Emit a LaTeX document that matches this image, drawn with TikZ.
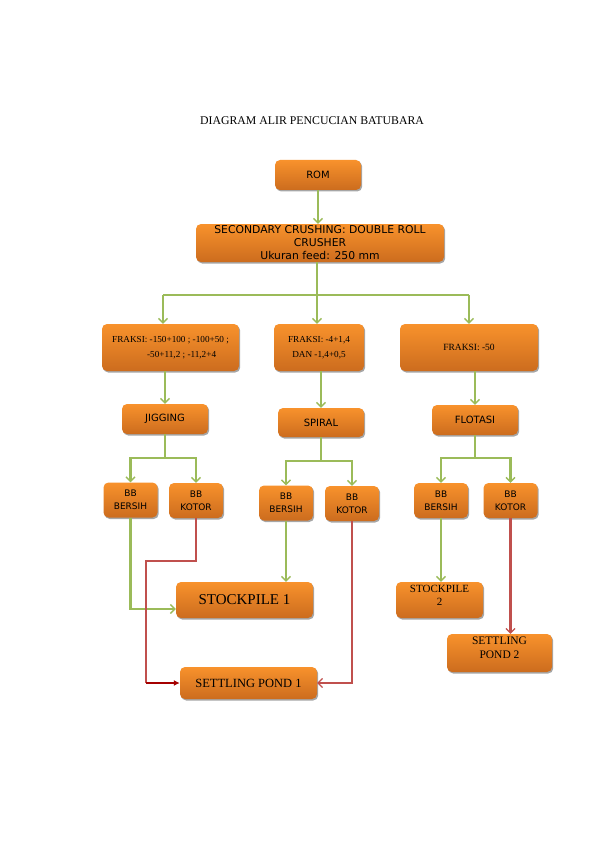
\documentclass[tikz,border=0pt]{standalone}
\usepackage{fontspec}
\setmainfont{Liberation Serif}
\setsansfont{DejaVu Sans}
\usetikzlibrary{arrows.meta,shadows}
\definecolor{orT}{HTML}{F8922C}
\definecolor{orB}{HTML}{CC6C1E}
\definecolor{lgreen}{HTML}{9BBB59}
\definecolor{lred}{HTML}{C0504D}
\definecolor{dred}{HTML}{A50000}
\tikzset{
  box/.style={rectangle, rounded corners=5pt, top color=orT, bottom color=orB, draw=none,
    drop shadow={shadow xshift=1.2pt,shadow yshift=-1.5pt,fill=black,opacity=0.35},
    inner sep=1pt, align=center, text=black},
  sbox/.style={box, font=\sffamily\fontsize{10}{13}\selectfont},
  bbbox/.style={box, font=\sffamily\fontsize{9}{13}\selectfont, minimum width=54pt, minimum height=35pt},
  gline/.style={draw=lgreen, line width=2.5pt},
  garrow/.style={gline, -{Straight Barb[length=4.5pt,width=9pt,line width=1.3pt]}},
  rline/.style={draw=lred, line width=2.2pt},
  rarrow/.style={rline, -{Straight Barb[length=4.5pt,width=9pt,line width=1.2pt]}},
  darrow/.style={draw=dred, line width=2.2pt, -{Latex[length=6pt,width=6pt]}},
}
\begin{document}
\begin{tikzpicture}[x=1pt,y=-1pt]
\fill[white] (0,0) rectangle (595,842);
\useasboundingbox (0,0) rectangle (595,842);

\node[font=\fontsize{11.8}{13}\selectfont] (title) at (312,121) {DIAGRAM ALIR PENCUCIAN BATUBARA};

\node[sbox, minimum width=86pt, minimum height=30pt] (rom) at (318,175) {ROM};
\node[sbox, minimum width=248pt, minimum height=38pt, font=\sffamily\fontsize{10.8}{13}\selectfont] (sec) at (320,243)
  {SECONDARY CRUSHING: DOUBLE ROLL\\CRUSHER\\Ukuran feed: 250 mm};

\node[box, minimum width=137pt, minimum height=47pt, align=left, font=\fontsize{9.2}{15}\selectfont] (f1) at (170.5,347.5)
  {FRAKSI: -150+100 ; -100+50 ;\\\hspace*{35pt}-50+11,2 ; -11,2+4};
\node[box, minimum width=90pt, minimum height=47pt, font=\fontsize{9.2}{15}\selectfont] (f2) at (319,347.5)
  {FRAKSI: -4+1,4\\DAN -1,4+0,5};
\node[box, minimum width=138pt, minimum height=47pt, font=\fontsize{9.5}{15}\selectfont] (f3) at (469,347.5)
  {FRAKSI: -50};

\node[sbox, minimum width=86pt, minimum height=30pt] (jig) at (165,419) {JIGGING};
\node[sbox, minimum width=86pt, minimum height=29pt] (spi) at (321,422.5) {SPIRAL};
\node[sbox, minimum width=86pt, minimum height=30pt] (flo) at (475,420) {FLOTASI};

\node[bbbox] (jbb) at (130.5,500) {BB\\BERSIH};
\node[bbbox] (jbk) at (196,500.5) {BB\\KOTOR};
\node[bbbox] (sbb) at (286,503) {BB\\BERSIH};
\node[bbbox] (sbk) at (352,503.5) {BB\\KOTOR};
\node[bbbox] (fbb) at (441,500.5) {BB\\BERSIH};
\node[bbbox] (fbk) at (510.5,500.5) {BB\\KOTOR};

\node[box, minimum width=137pt, minimum height=36pt, font=\fontsize{15}{17}\selectfont] (sp1) at (244.5,600) {STOCKPILE 1};
\node[box, minimum width=137pt, minimum height=32pt, font=\fontsize{12.5}{14}\selectfont] (spd1) at (248.5,683) {SETTLING POND 1};
\node[box, minimum width=87pt, minimum height=36pt, text depth=9pt, font=\fontsize{11}{13}\selectfont] (sp2) at (439.5,600) {STOCKPILE\\2};
\node[box, minimum width=105pt, minimum height=38pt, text depth=10pt, font=\fontsize{11.5}{14}\selectfont] (spd2) at (499.5,653) {SETTLING\\POND 2};

% top connectors
\draw[garrow] (rom.south) -- (rom.south |- sec.north);
\coordinate (split) at (317,295);
\coordinate (b1) at (163,295);
\coordinate (b3) at (469,295);
\draw[gline] (sec.south -| split) -- (split);
\draw[gline] (b1) -- (b3);
\draw[garrow] (b1) -- (b1 |- f1.north);
\draw[garrow] (split) -- (split |- f2.north);
\draw[garrow] (b3) -- (b3 |- f3.north);

\draw[garrow] (jig.north |- f1.south) -- (jig.north);
\draw[garrow] (spi.north |- f2.south) -- (spi.north);
\draw[garrow] (flo.north |- f3.south) -- (flo.north);

% splits
\coordinate (js) at (165,458);
\coordinate (ss) at (321,461);
\coordinate (fs) at (475,458);
\draw[gline] (js |- jig.south) -- (js);
\draw[garrow] (js) -| (jbb.north);
\draw[garrow] (js) -| (jbk.north);
\draw[gline] (ss |- spi.south) -- (ss);
\draw[garrow] (ss) -| (sbb.north);
\draw[garrow] (ss) -| (sbk.north);
\draw[gline] (fs |- flo.south) -- (fs);
\draw[garrow] (fs) -| (fbb.north);
\draw[garrow] (fs) -| (fbk.north);

% bottom
\draw[garrow] (jbb.south) |- ([yshift=-9pt]sp1.west);
\coordinate (r1) at (146,561);
\draw[rline] (jbk.south) |- (r1) -- (r1 |- spd1.west);
\draw[darrow] (r1 |- spd1.west) -- (spd1.west);
\draw[garrow] (sbb.south) -- (sbb.south |- sp1.north);
\draw[rarrow] (sbk.south) |- (spd1.east);
\draw[garrow] (fbb.south) -- (fbb.south |- sp2.north);
\draw[rarrow] (fbk.south) -- (fbk.south |- spd2.north);
\end{tikzpicture}
\end{document}
